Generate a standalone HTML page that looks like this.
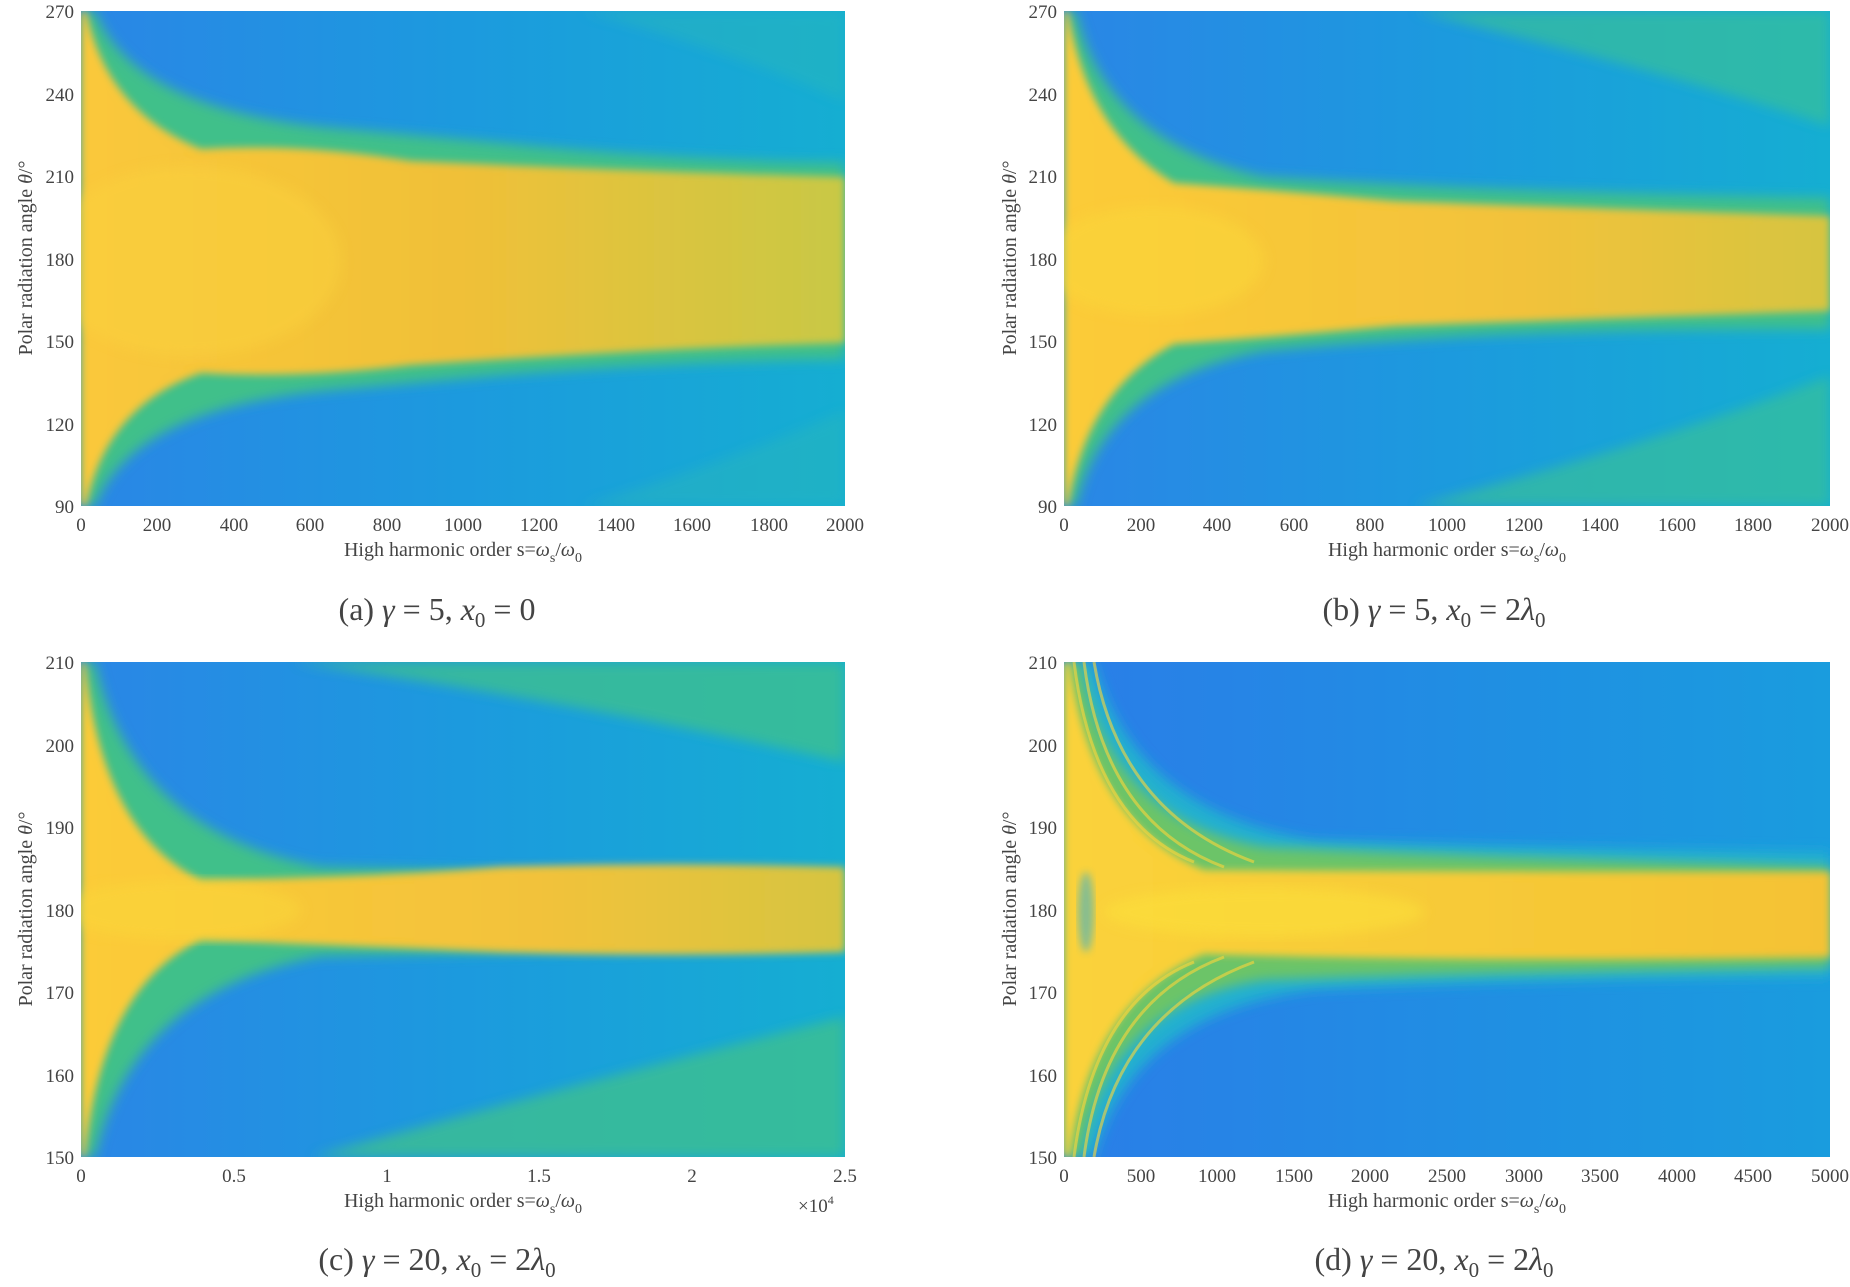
<!DOCTYPE html>
<html><head><meta charset="utf-8"><style>
html,body{margin:0;padding:0;background:#fff;}
svg{display:block;}
text{font-family:"Liberation Serif",serif;fill:#444;}
.t{font-size:19px;}
.ax{font-size:20px;}
.cap{font-size:32px;fill:#111;}
</style></head><body>
<svg width="1850" height="1287" viewBox="0 0 1850 1287" xmlns="http://www.w3.org/2000/svg">
<defs>
<filter id="b1" x="-10%" y="-10%" width="120%" height="120%"><feGaussianBlur stdDeviation="6"/></filter>
<filter id="b2" x="-10%" y="-10%" width="120%" height="120%"><feGaussianBlur stdDeviation="4"/></filter>
<linearGradient id="bg" x1="0" y1="0" x2="1" y2="0"><stop offset="0" stop-color="#2a86e6"/><stop offset="0.5" stop-color="#1c9ade"/><stop offset="1" stop-color="#15aed2"/></linearGradient>
<linearGradient id="bgd" x1="0" y1="0" x2="1" y2="0"><stop offset="0" stop-color="#2a7ee8"/><stop offset="0.6" stop-color="#1f90e2"/><stop offset="1" stop-color="#1a9cde"/></linearGradient>
<linearGradient id="yl" x1="0" y1="0" x2="1" y2="0"><stop offset="0" stop-color="#fac83a"/><stop offset="0.5" stop-color="#f0c038"/><stop offset="1" stop-color="#c8c845"/></linearGradient>
<linearGradient id="yl2" x1="0" y1="0" x2="1" y2="0"><stop offset="0" stop-color="#fccb38"/><stop offset="0.6" stop-color="#f2c23a"/><stop offset="1" stop-color="#d6c440"/></linearGradient>
<linearGradient id="yl3" x1="0" y1="0" x2="1" y2="0"><stop offset="0" stop-color="#fad23a"/><stop offset="1" stop-color="#f4c234"/></linearGradient>
<clipPath id="cp"><rect x="0" y="0" width="764" height="495"/></clipPath>
<clipPath id="cp2"><rect x="0" y="0" width="766" height="495"/></clipPath>
</defs>

<!-- Panel (a) -->
<g transform="translate(81,11)">
<g clip-path="url(#cp)">
<rect width="764" height="495" fill="url(#bg)"/>
<path d="M500,0 L764,0 L764,90 Q650,40 500,0Z M500,495 L764,495 L764,400 Q650,450 500,495Z" fill="#2ab8b8" opacity="0.45" filter="url(#b1)"/>
<path d="M0,0 L14,0 Q50,95 240,116 L420,132 Q600,150 764,152 L764,348 Q600,350 420,364 L240,380 Q50,400 14,495 L0,495Z" fill="#3fc08a" filter="url(#b1)"/>
<path d="M0,0 L5,0 Q25,100 120,138 Q220,132 330,150 Q600,162 764,166 L764,332 Q600,336 330,354 Q220,368 120,362 Q25,395 5,495 L0,495Z" fill="url(#yl)" filter="url(#b2)"/>
<ellipse cx="110" cy="250" rx="150" ry="95" fill="#fad23c" opacity="0.5" filter="url(#b1)"/>
</g>
</g>

<!-- Panel (b) -->
<g transform="translate(1064,11)">
<g clip-path="url(#cp2)">
<rect width="766" height="495" fill="url(#bg)"/>
<path d="M350,0 L766,0 L766,115 Q600,60 350,0Z M350,495 L766,495 L766,365 Q600,430 350,495Z" fill="#38c09a" opacity="0.7" filter="url(#b1)"/>
<path d="M0,0 L12,0 Q40,130 200,166 Q450,182 766,187 L766,318 Q450,316 200,340 Q40,370 12,495 L0,495Z" fill="#3fc08a" filter="url(#b1)"/>
<path d="M0,0 L4,0 Q22,120 110,172 Q220,180 330,190 Q600,200 766,205 L766,300 Q600,305 330,315 Q220,325 110,333 Q22,380 4,495 L0,495Z" fill="url(#yl2)" filter="url(#b2)"/>
<ellipse cx="90" cy="250" rx="110" ry="55" fill="#fad83a" opacity="0.5" filter="url(#b1)"/>
</g>
</g>

<!-- Panel (c) -->
<g transform="translate(81,662)">
<g clip-path="url(#cp)">
<rect width="764" height="495" fill="url(#bg)"/>
<path d="M210,0 L764,0 L764,100 Q500,40 210,0Z" fill="#3cc090" opacity="0.8" filter="url(#b1)"/>
<path d="M230,495 L764,495 L764,355 Q500,420 230,495Z" fill="#3cc090" opacity="0.8" filter="url(#b1)"/>
<path d="M0,0 L14,0 Q50,170 240,205 Q500,212 764,215 L764,285 Q500,288 240,294 Q50,330 14,495 L0,495Z" fill="#3fc08a" filter="url(#b1)"/>
<path d="M0,0 L4,0 Q20,170 120,218 Q300,215 420,205 Q600,200 764,205 L764,290 Q600,295 420,290 Q300,285 120,278 Q20,325 4,495 L0,495Z" fill="url(#yl2)" filter="url(#b2)"/>
<ellipse cx="100" cy="248" rx="120" ry="30" fill="#fad83a" opacity="0.5" filter="url(#b1)"/>
</g>
</g>

<!-- Panel (d) -->
<g transform="translate(1064,662)">
<g clip-path="url(#cp2)">
<rect width="766" height="495" fill="url(#bgd)"/>
<path d="M0,0 L30,0 Q70,150 250,178 Q450,185 766,190 L766,315 Q450,318 250,328 Q70,350 30,495 L0,495Z" fill="#22b0d0" filter="url(#b1)"/>
<path d="M0,0 L16,0 Q45,160 200,185 Q400,195 766,205 L766,305 Q400,310 200,318 Q45,340 16,495 L0,495Z" fill="#6cc468" filter="url(#b1)"/>
<path d="M0,0 L6,0 Q25,160 140,208 Q400,210 766,210 L766,295 Q400,300 140,292 Q25,340 6,495 L0,495Z" fill="url(#yl3)" filter="url(#b2)"/>
<path d="M10,0 Q30,160 130,200 M20,0 Q40,160 160,205 M30,0 Q55,150 190,200 M10,495 Q30,340 130,300 M20,495 Q40,340 160,295 M30,495 Q55,350 190,300" stroke="#fcd63a" stroke-width="3" fill="none" opacity="0.6"/>
<ellipse cx="22" cy="250" rx="8" ry="40" fill="#3ab0c8" opacity="0.6" filter="url(#b2)"/>
<ellipse cx="200" cy="250" rx="160" ry="25" fill="#fce03a" opacity="0.6" filter="url(#b1)"/>
</g>
</g>

<g class="t" text-anchor="end">
<text x="74" y="18">270</text><text x="74" y="101">240</text><text x="74" y="183">210</text><text x="74" y="266">180</text><text x="74" y="348">150</text><text x="74" y="431">120</text><text x="74" y="513">90</text>
<text x="74" y="669">210</text><text x="74" y="752">200</text><text x="74" y="834">190</text><text x="74" y="917">180</text><text x="74" y="999">170</text><text x="74" y="1082">160</text><text x="74" y="1164">150</text>
<text x="1057" y="18">270</text><text x="1057" y="101">240</text><text x="1057" y="183">210</text><text x="1057" y="266">180</text><text x="1057" y="348">150</text><text x="1057" y="431">120</text><text x="1057" y="513">90</text>
<text x="1057" y="669">210</text><text x="1057" y="752">200</text><text x="1057" y="834">190</text><text x="1057" y="917">180</text><text x="1057" y="999">170</text><text x="1057" y="1082">160</text><text x="1057" y="1164">150</text>
</g>
<g class="t" text-anchor="middle">
<text x="81" y="531">0</text><text x="157" y="531">200</text><text x="234" y="531">400</text><text x="310" y="531">600</text><text x="387" y="531">800</text><text x="463" y="531">1000</text><text x="539" y="531">1200</text><text x="616" y="531">1400</text><text x="692" y="531">1600</text><text x="769" y="531">1800</text><text x="845" y="531">2000</text>
<text x="1064" y="531">0</text><text x="1141" y="531">200</text><text x="1217" y="531">400</text><text x="1294" y="531">600</text><text x="1370" y="531">800</text><text x="1447" y="531">1000</text><text x="1524" y="531">1200</text><text x="1600" y="531">1400</text><text x="1677" y="531">1600</text><text x="1753" y="531">1800</text><text x="1830" y="531">2000</text>
<text x="81" y="1182">0</text><text x="234" y="1182">0.5</text><text x="387" y="1182">1</text><text x="539" y="1182">1.5</text><text x="692" y="1182">2</text><text x="845" y="1182">2.5</text>
<text x="1064" y="1182">0</text><text x="1141" y="1182">500</text><text x="1217" y="1182">1000</text><text x="1294" y="1182">1500</text><text x="1370" y="1182">2000</text><text x="1447" y="1182">2500</text><text x="1524" y="1182">3000</text><text x="1600" y="1182">3500</text><text x="1677" y="1182">4000</text><text x="1753" y="1182">4500</text><text x="1830" y="1182">5000</text>
</g>
<text class="t" x="798" y="1212" font-size="16">×10<tspan dy="-8" font-size="12">4</tspan></text>

<g class="ax" text-anchor="middle">
<text x="463" y="556">High harmonic order s=<tspan font-style="italic">ω</tspan><tspan dy="6" font-size="14">s</tspan><tspan dy="-6">/</tspan><tspan font-style="italic">ω</tspan><tspan dy="6" font-size="14">0</tspan></text>
<text x="1447" y="556">High harmonic order s=<tspan font-style="italic">ω</tspan><tspan dy="6" font-size="14">s</tspan><tspan dy="-6">/</tspan><tspan font-style="italic">ω</tspan><tspan dy="6" font-size="14">0</tspan></text>
<text x="463" y="1207">High harmonic order s=<tspan font-style="italic">ω</tspan><tspan dy="6" font-size="14">s</tspan><tspan dy="-6">/</tspan><tspan font-style="italic">ω</tspan><tspan dy="6" font-size="14">0</tspan></text>
<text x="1447" y="1207">High harmonic order s=<tspan font-style="italic">ω</tspan><tspan dy="6" font-size="14">s</tspan><tspan dy="-6">/</tspan><tspan font-style="italic">ω</tspan><tspan dy="6" font-size="14">0</tspan></text>
<text transform="translate(32,258) rotate(-90)">Polar radiation angle <tspan font-style="italic">θ</tspan>/°</text>
<text transform="translate(1016,258) rotate(-90)">Polar radiation angle <tspan font-style="italic">θ</tspan>/°</text>
<text transform="translate(32,909) rotate(-90)">Polar radiation angle <tspan font-style="italic">θ</tspan>/°</text>
<text transform="translate(1016,909) rotate(-90)">Polar radiation angle <tspan font-style="italic">θ</tspan>/°</text>
</g>

<g class="cap" text-anchor="middle">
<text x="437" y="620">(a) <tspan font-style="italic">γ</tspan> = 5, <tspan font-style="italic">x</tspan><tspan dy="7" font-size="21">0</tspan><tspan dy="-7"> = 0</tspan></text>
<text x="1434" y="620">(b) <tspan font-style="italic">γ</tspan> = 5, <tspan font-style="italic">x</tspan><tspan dy="7" font-size="21">0</tspan><tspan dy="-7"> = 2</tspan><tspan font-style="italic">λ</tspan><tspan dy="7" font-size="21">0</tspan></text>
<text x="437" y="1270">(c) <tspan font-style="italic">γ</tspan> = 20, <tspan font-style="italic">x</tspan><tspan dy="7" font-size="21">0</tspan><tspan dy="-7"> = 2</tspan><tspan font-style="italic">λ</tspan><tspan dy="7" font-size="21">0</tspan></text>
<text x="1434" y="1270">(d) <tspan font-style="italic">γ</tspan> = 20, <tspan font-style="italic">x</tspan><tspan dy="7" font-size="21">0</tspan><tspan dy="-7"> = 2</tspan><tspan font-style="italic">λ</tspan><tspan dy="7" font-size="21">0</tspan></text>
</g>
</svg>
</body></html>
